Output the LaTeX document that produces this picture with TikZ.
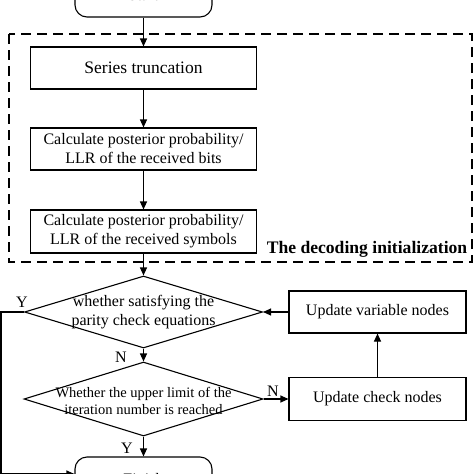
\documentclass[tikz,border=0pt]{standalone}
\usepackage{fontspec}
\setmainfont{Liberation Serif}
\usetikzlibrary{shapes.geometric,arrows.meta}

\begin{document}
\begin{tikzpicture}[x=1pt,y=-1pt,line width=1.1pt,
    >={Triangle[length=8pt,width=7pt]}]
          \tikzstyle{every node}=[font=\fontsize{16}{19}\selectfont]
          \tikzstyle{proc}=[rectangle, draw, minimum width=226pt, minimum height=42pt, align=center, inner sep=0pt]
          \tikzstyle{term}=[rectangle, draw, rounded corners=12pt, minimum width=137pt, minimum height=43pt]
          \tikzstyle{dec}=[diamond, draw, inner sep=0pt]
          \clip (0,0) rectangle (474,474);
          \node[term] (Start) at (143.5,-4.5) {Start};
          \node[proc, font=\fontsize{17.5}{20}\selectfont] (Trunc) at (143.5,68) {Series truncation};
          \node[proc] (Bits) at (143.5,149) {Calculate posterior probability/\\LLR of the received bits};
          \node[proc, minimum height=43pt] (Syms) at (143.5,231.5) {Calculate posterior probability/\\LLR of the received symbols};
          \draw[dash pattern=on 10pt off 6pt, line width=1.6pt] (9,34) rectangle (472,262);
          \node[font=\fontsize{17.6}{20}\selectfont\bfseries] (InitLbl) at (367,249) {The decoding initialization};
          \node[dec, minimum width=238pt, minimum height=72pt] (Parity) at (143.5,312) {};
          \node[align=center] (ParityTxt) at (Parity) {whether satisfying the\\parity check equations};
          \node[dec, minimum width=239pt, minimum height=74pt] (Limit) at (143.5,399) {};
          \node[align=center, font=\fontsize{14.5}{16.5}\selectfont] (LimitTxt) at ([yshift=-2pt]Limit.center) {Whether the upper limit of the\\iteration number is reached};
          \node[proc, minimum width=177pt] (VarUpd) at (377.5,312) {Update variable nodes};
          \node[proc, minimum width=177pt, minimum height=43pt] (ChkUpd) at (377.5,399) {Update check nodes};
          \node[term, minimum height=44pt] (Finish) at (143.5,479) {Finish};
          \draw[->] (Start) -- (Trunc);
          \draw[->] (Trunc) -- (Bits);
          \draw[->] (Bits) -- (Syms);
          \draw[->] (Syms) -- (Parity);
          \draw[->] (Parity) -- (Limit);
          \draw[->] (Limit) -- (Finish);
          \draw[->] (Limit.east) -- (ChkUpd.west);
          \draw[->] (ChkUpd) -- (VarUpd);
          \draw[->] (VarUpd.west) -- (Parity.east);
          \draw[->] (Parity.west) -- ++(-23,0) |- ([yshift=5pt]Finish.west);
          \node (YesParity) at (22,302) {Y};
          \node (NoParity) at (121,357) {N};
          \node (NoLimit) at (273,391) {N};
          \node (YesLimit) at (127,448) {Y};
        \end{tikzpicture}
\end{document}
